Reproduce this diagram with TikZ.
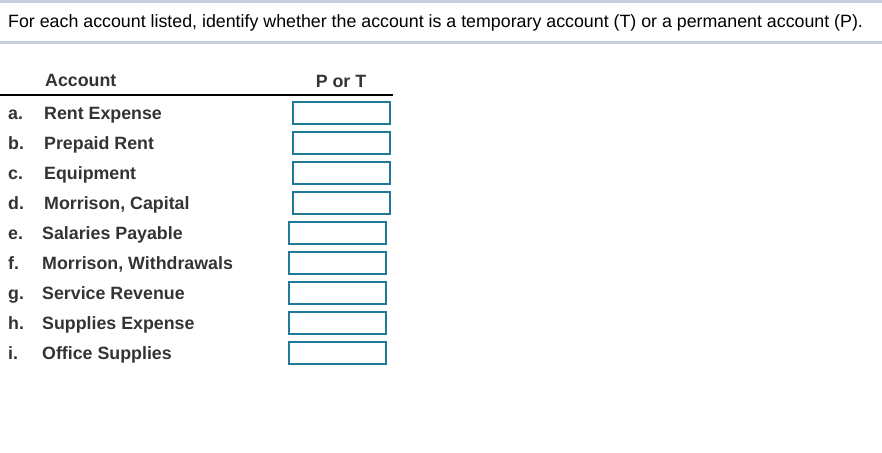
\documentclass[tikz,border=0pt]{standalone}
\usepackage{fontspec}
\setmainfont{Liberation Sans}
\definecolor{boxc}{RGB}{32,121,150}
\begin{document}
\begin{tikzpicture}[x=1pt,y=-1pt,
  lbl/.style={anchor=base west,text=black!80,font=\fontsize{17.8}{20}\selectfont\bfseries,inner sep=0},
  ansbox/.style={draw=boxc,line width=2pt,minimum width=97pt,minimum height=22pt,inner sep=0}]
\useasboundingbox (0,0) rectangle (882,452);
\draw[line width=3pt,color={rgb,255:red,200;green,207;blue,220}] (0,1.5) -- (882,1.5);
\draw[line width=3pt,color={rgb,255:red,200;green,207;blue,220}] (0,43) -- (882,43);
\node[anchor=base west,inner sep=0,font=\fontsize{17.8}{20}\selectfont] (q) at (8,28) {For each account listed, identify whether the account is a temporary account (T) or a permanent account (P).};
\node[lbl] (h1) at (45,86) {Account};
\node[lbl,anchor=base] (h2) at (341,87) {P or T};
\draw[line width=2pt] (0,95) -- (393,95);
\foreach \l/\t/\lx/\tx/\bx [count=\i from 0] in {a./Rent Expense/8/44/341, b./Prepaid Rent/8/44/341, c./Equipment/8/44/341, d./{Morrison, Capital}/8/44/341, e./Salaries Payable/8/42/337, f./{Morrison, Withdrawals}/8/42/337, g./Service Revenue/8/42/337, h./Supplies Expense/8/42/337, i./Office Supplies/8/42/337}{
  \node[lbl] (l\i) at (\lx,{119+30*\i}) {\l};
  \node[lbl] (t\i) at (\tx,{119+30*\i}) {\t};
  \node[ansbox] (b\i) at (\bx,{113+30*\i}) {};
}
\end{tikzpicture}
\end{document}
